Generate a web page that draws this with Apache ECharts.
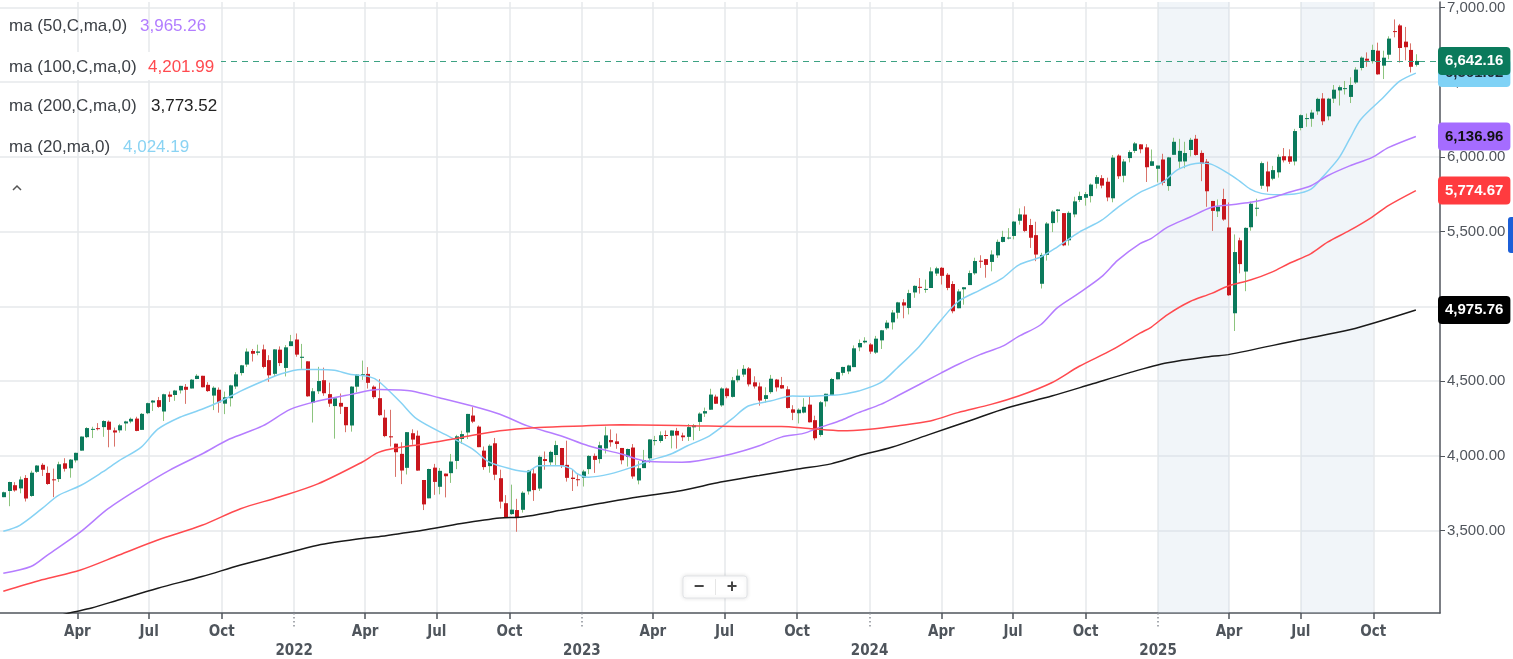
<!DOCTYPE html>
<html lang="en">
<head>
<meta charset="UTF-8"/>
<title>weekly index</title>
<script src="https://cdn.jsdelivr.net/npm/echarts@6/dist/echarts.min.js"></script>
<style>
    html, body { margin: 0; padding: 0; background: #fff; }
    #main { width: 1513px; height: 659px; }
</style>
</head>
<body>
<div id="main"></div>

<script type="text/javascript">
    // monday of the first weekly bar
    var firstWeek = '2020-12-28';

    // weekly bars: [open, high, low, close]
    var candles = [
        [3723.0, 3760.2, 3723.0, 3756.1],
        // 2021
        [3764.6, 3826.7, 3662.7, 3824.7], [3803.1, 3823.6, 3759.6, 3768.3], [3781.9, 3861.5, 3749.1, 3841.5], [3851.7, 3870.9, 3694.1, 3714.2],
        [3731.2, 3900.4, 3725.6, 3886.8], [3892.6, 3937.3, 3884.9, 3934.8], [3939.6, 3950.4, 3865.0, 3906.7], [3885.5, 3928.6, 3805.6, 3811.2],
        [3842.5, 3914.5, 3723.3, 3841.9], [3844.4, 3960.3, 3824.6, 3943.3], [3949.6, 3983.9, 3894.6, 3913.1], [3916.5, 3978.2, 3853.5, 3974.5],
        [3969.3, 4020.6, 3955.1, 4019.9], [4034.4, 4129.5, 4034.4, 4128.8], [4124.7, 4191.3, 4118.6, 4185.5], [4179.8, 4194.2, 4118.6, 4180.2],
        [4185.0, 4218.8, 4170.2, 4181.2], [4192.0, 4238.0, 4127.0, 4232.6], [4228.3, 4236.4, 4056.9, 4173.9], [4169.9, 4188.7, 4061.4, 4155.9],
        [4170.2, 4213.4, 4154.5, 4204.1], [4216.5, 4234.1, 4167.6, 4229.9], [4229.3, 4255.8, 4217.7, 4247.4], [4248.9, 4261.1, 4164.4, 4166.5],
        [4173.4, 4286.1, 4173.4, 4280.7], [4284.9, 4355.4, 4278.5, 4352.3], [4356.5, 4372.9, 4300.0, 4369.6], [4372.4, 4393.7, 4321.1, 4327.2],
        [4296.4, 4415.2, 4233.1, 4411.8], [4409.6, 4430.0, 4360.0, 4395.3], [4406.9, 4440.8, 4367.7, 4436.5], [4437.8, 4468.4, 4416.8, 4468.0],
        [4461.7, 4480.3, 4347.5, 4441.7], [4450.3, 4513.3, 4450.3, 4509.4], [4513.8, 4545.9, 4513.0, 4535.4], [4535.4, 4535.4, 4457.7, 4458.6],
        [4474.8, 4492.8, 4427.8, 4433.0], [4402.9, 4465.4, 4305.9, 4455.5], [4442.1, 4457.3, 4288.5, 4357.0], [4348.8, 4429.8, 4278.9, 4391.3],
        [4385.4, 4475.8, 4329.9, 4471.4], [4463.7, 4559.7, 4447.5, 4544.9], [4553.7, 4608.1, 4537.4, 4605.4], [4610.6, 4718.5, 4595.1, 4697.5],
        [4701.5, 4714.9, 4630.9, 4682.9], [4689.3, 4743.8, 4672.9, 4698.0], [4712.0, 4743.8, 4585.4, 4594.6], [4640.2, 4673.0, 4495.1, 4538.4],
        [4548.4, 4713.6, 4531.1, 4712.0], [4710.3, 4732.0, 4600.2, 4620.6], [4587.9, 4740.7, 4531.1, 4725.8], [4734.0, 4808.9, 4734.0, 4766.2],
        // 2022
        [4778.1, 4818.6, 4662.7, 4677.0], [4655.3, 4748.8, 4582.2, 4662.9], [4632.2, 4632.2, 4395.3, 4397.9], [4356.3, 4453.2, 4222.6, 4431.9],
        [4431.8, 4595.3, 4414.0, 4500.5], [4505.8, 4590.0, 4401.4, 4418.6], [4412.6, 4489.6, 4327.2, 4348.9], [4332.7, 4385.3, 4114.7, 4384.7],
        [4354.2, 4416.8, 4279.5, 4328.9], [4327.0, 4327.0, 4157.9, 4204.3], [4202.8, 4465.4, 4161.7, 4463.1], [4462.4, 4546.0, 4424.3, 4543.1],
        [4541.1, 4637.3, 4507.6, 4545.9], [4548.0, 4593.5, 4450.0, 4488.3], [4462.6, 4471.0, 4381.3, 4392.6], [4385.6, 4512.9, 4267.6, 4271.8],
        [4255.3, 4308.5, 4124.3, 4131.9], [4130.6, 4307.7, 4062.5, 4123.3], [4081.3, 4081.3, 3858.9, 4023.9], [4013.0, 4090.7, 3810.3, 3901.4],
        [3919.4, 4158.5, 3875.1, 4158.2], [4151.1, 4177.5, 4073.9, 4108.5], [4134.7, 4168.8, 3900.2, 3900.9], [3838.2, 3838.2, 3636.9, 3674.8],
        [3715.3, 3913.7, 3715.3, 3911.7], [3920.8, 3945.9, 3738.7, 3825.3], [3792.6, 3918.5, 3742.1, 3899.4], [3880.9, 3880.9, 3721.6, 3863.2],
        [3883.8, 4012.4, 3818.6, 3961.6], [3965.7, 4140.2, 3910.7, 4130.3], [4112.4, 4167.7, 4079.8, 4145.2], [4155.9, 4280.5, 4112.1, 4280.2],
        [4269.4, 4325.3, 4218.7, 4228.5], [4195.1, 4203.0, 4057.7, 4057.7], [4034.6, 4062.0, 3906.2, 3924.3], [3930.9, 4076.8, 3886.8, 4067.4],
        [4083.7, 4119.3, 3837.1, 3873.3], [3849.9, 3907.1, 3647.5, 3693.2], [3682.7, 3736.7, 3584.1, 3585.6], [3609.8, 3806.9, 3604.9, 3639.7],
        [3636.9, 3712.0, 3491.6, 3583.1], [3638.7, 3762.8, 3620.0, 3752.8], [3762.0, 3905.4, 3740.4, 3901.1], [3881.9, 3911.8, 3698.2, 3770.6],
        [3780.7, 4001.5, 3764.7, 3992.9], [3978.0, 4028.8, 3906.5, 3965.3], [3956.2, 4034.0, 3933.0, 4026.1], [4005.4, 4100.5, 3937.8, 4071.7],
        [4052.0, 4052.5, 3918.4, 3934.4], [3939.3, 4101.0, 3827.3, 3852.4], [3853.8, 3905.0, 3764.5, 3844.8], [3843.3, 3878.5, 3796.0, 3839.5],
        // 2023
        [3853.3, 3906.2, 3794.3, 3895.1], [3910.8, 4004.0, 3877.3, 3999.1], [3999.3, 4015.4, 3885.5, 3972.6], [3978.1, 4094.2, 3949.1, 4070.6],
        [4049.3, 4195.4, 4015.6, 4136.5], [4105.3, 4176.5, 4060.8, 4090.5], [4096.6, 4149.0, 4047.0, 4079.1], [4052.4, 4052.4, 3943.1, 3970.0],
        [3992.4, 4048.3, 3928.2, 4045.6], [4055.2, 4078.5, 3846.3, 3861.6], [3835.1, 3964.5, 3808.9, 3916.6], [3917.5, 4039.5, 3917.5, 3971.0],
        [3982.9, 4110.8, 3951.5, 4109.3], [4102.2, 4133.1, 4069.8, 4105.0], [4098.8, 4163.2, 4086.9, 4137.6], [4139.0, 4169.5, 4113.2, 4133.5],
        [4134.0, 4170.1, 4049.4, 4169.5], [4166.8, 4186.9, 4048.3, 4136.3], [4136.0, 4154.3, 4098.9, 4124.1], [4126.7, 4212.9, 4099.1, 4192.0],
        [4190.8, 4212.9, 4104.0, 4205.5], [4226.7, 4290.7, 4166.2, 4282.4], [4283.0, 4322.6, 4260.2, 4298.9], [4308.3, 4448.5, 4307.2, 4409.6],
        [4396.1, 4409.2, 4347.0, 4348.3], [4337.4, 4458.5, 4328.1, 4450.4], [4450.5, 4456.5, 4385.1, 4399.0], [4394.2, 4527.6, 4389.9, 4505.4],
        [4505.3, 4578.4, 4491.2, 4536.3], [4543.4, 4607.1, 4528.6, 4582.2], [4584.8, 4594.2, 4463.9, 4478.0], [4491.6, 4531.9, 4449.9, 4464.1],
        [4464.1, 4490.3, 4335.3, 4369.7], [4380.3, 4458.3, 4356.3, 4405.7], [4426.0, 4541.2, 4415.0, 4515.8], [4510.1, 4514.3, 4430.3, 4457.5],
        [4473.0, 4527.7, 4448.4, 4450.3], [4445.1, 4465.4, 4316.5, 4320.1], [4310.6, 4338.5, 4238.6, 4288.1], [4284.5, 4317.3, 4216.5, 4308.5],
        [4289.0, 4385.5, 4283.8, 4327.8], [4342.4, 4393.6, 4223.0, 4224.2], [4238.4, 4268.3, 4103.8, 4117.4], [4139.4, 4366.0, 4128.0, 4358.3],
        [4364.3, 4415.6, 4329.3, 4415.2], [4406.7, 4521.2, 4406.7, 4514.0], [4511.7, 4560.3, 4511.7, 4559.3], [4554.9, 4595.4, 4537.2, 4594.6],
        [4564.4, 4609.2, 4546.5, 4604.4], [4593.4, 4738.6, 4593.4, 4719.2], [4725.6, 4778.0, 4699.7, 4754.6], [4758.9, 4793.3, 4752.0, 4769.8],
        // 2024
        [4745.2, 4754.3, 4682.1, 4697.2], [4690.6, 4802.4, 4681.5, 4783.8], [4772.4, 4842.1, 4714.8, 4839.8], [4853.4, 4907.0, 4844.0, 4891.0],
        [4892.9, 4975.3, 4845.2, 4958.6], [4957.2, 5030.1, 4918.1, 5026.6], [5026.8, 5048.4, 4920.3, 5005.6], [4989.3, 5111.1, 4946.0, 5088.8],
        [5093.0, 5140.3, 5057.3, 5137.1], [5130.9, 5189.3, 5085.4, 5123.7], [5112.0, 5179.1, 5091.1, 5117.1], [5123.0, 5261.1, 5123.0, 5234.2],
        [5219.5, 5264.9, 5203.4, 5254.4], [5258.0, 5263.0, 5146.1, 5204.3], [5211.4, 5222.2, 5107.9, 5123.4], [5149.7, 5168.4, 4953.6, 4967.2],
        [4987.3, 5114.6, 4987.3, 5100.0], [5114.1, 5128.0, 5011.1, 5127.8], [5142.4, 5239.7, 5142.4, 5222.7], [5221.1, 5325.5, 5211.2, 5303.3],
        [5305.4, 5341.9, 5257.0, 5304.7], [5315.9, 5315.9, 5191.7, 5277.5], [5297.2, 5375.1, 5234.3, 5347.0], [5341.2, 5447.3, 5324.3, 5431.6],
        [5431.1, 5505.5, 5428.1, 5464.6], [5459.6, 5523.6, 5448.0, 5460.5], [5471.1, 5570.3, 5448.4, 5567.2], [5572.9, 5655.6, 5546.7, 5615.4],
        [5614.1, 5669.7, 5497.0, 5505.0], [5544.3, 5585.3, 5391.0, 5459.1], [5476.6, 5566.2, 5302.4, 5346.6], [5151.1, 5358.2, 5119.3, 5344.2],
        [5344.4, 5563.9, 5306.3, 5554.3], [5557.2, 5643.2, 5497.0, 5634.6], [5637.8, 5651.4, 5561.0, 5648.4], [5623.9, 5623.9, 5402.6, 5408.4],
        [5442.1, 5636.3, 5407.0, 5626.0], [5615.2, 5733.6, 5596.0, 5702.6], [5711.9, 5767.4, 5698.3, 5738.2], [5726.5, 5765.1, 5674.0, 5751.1],
        [5737.8, 5822.1, 5695.5, 5815.0], [5820.1, 5878.5, 5788.4, 5864.7], [5857.8, 5878.2, 5790.0, 5808.1], [5833.9, 5861.0, 5703.2, 5728.8],
        [5723.2, 6012.5, 5696.5, 5995.5], [6008.9, 6017.3, 5853.0, 5870.6], [5874.2, 5985.4, 5830.3, 5969.3], [5992.3, 6044.2, 5963.9, 6032.4],
        [6040.1, 6100.0, 6026.3, 6090.3], [6084.0, 6085.2, 6024.3, 6051.1], [6063.8, 6085.2, 5832.3, 5930.9], [5940.3, 6049.8, 5940.3, 5970.8],
        [5920.7, 5940.8, 5829.5, 5942.5],
        // 2025
        [5982.8, 6021.0, 5809.7, 5827.0], [5804.9, 6000.0, 5773.3, 5996.7], [6014.1, 6128.2, 6014.1, 6101.2], [5969.0, 6120.9, 5923.9, 6040.5],
        [5969.7, 6101.3, 5923.9, 6026.0], [6046.4, 6127.5, 6003.0, 6114.6], [6121.6, 6147.4, 6008.6, 6013.1], [6026.7, 6043.7, 5837.7, 5954.5],
        [5968.3, 5986.1, 5666.3, 5770.2], [5705.4, 5705.4, 5504.7, 5638.9], [5635.6, 5715.3, 5597.8, 5667.6], [5718.1, 5787.0, 5572.4, 5580.9],
        [5527.9, 5695.3, 5069.9, 5074.1], [4953.8, 5481.3, 4835.0, 5363.4], [5442.0, 5459.5, 5220.8, 5282.7], [5232.9, 5528.1, 5101.6, 5525.2],
        [5529.2, 5700.7, 5506.1, 5686.7], [5655.3, 5720.1, 5603.0, 5659.9], [5807.1, 5969.3, 5786.1, 5958.4], [5902.9, 5968.6, 5767.4, 5802.8],
        [5854.1, 5939.9, 5843.7, 5911.7], [5896.7, 6016.9, 5861.4, 6000.4], [6004.6, 6059.4, 5963.2, 5977.0], [6004.0, 6050.8, 5952.6, 5967.8],
        [5969.7, 6187.7, 5943.2, 6173.1], [6193.4, 6284.7, 6178.0, 6279.4], [6259.8, 6290.2, 6201.6, 6259.8], [6255.2, 6315.6, 6201.6, 6296.8],
        [6304.7, 6395.8, 6281.7, 6388.6], [6390.9, 6427.0, 6212.7, 6238.0], [6271.7, 6395.2, 6245.0, 6389.5], [6389.7, 6481.3, 6360.8, 6449.8],
        [6445.0, 6478.3, 6343.9, 6466.9], [6457.7, 6508.2, 6417.4, 6460.3], [6401.5, 6532.7, 6360.6, 6481.5], [6498.1, 6600.2, 6488.6, 6584.3],
        [6594.9, 6672.7, 6578.9, 6664.4], [6657.2, 6699.5, 6603.0, 6643.7], [6640.4, 6750.9, 6624.6, 6715.8], [6711.2, 6764.6, 6550.2, 6552.5],
        [6610.8, 6710.9, 6520.9, 6664.0], [6684.0, 6807.1, 6653.7, 6791.7], [6842.0, 6920.3, 6800.0, 6840.2], [6880.0, 6890.0, 6631.4, 6728.8],
        [6771.5, 6869.9, 6646.0, 6734.1], [6716.0, 6760.0, 6565.0, 6603.0], [6616.0, 6687.0, 6605.0, 6642.16]
    ];

    // moving averages as [week index, value]
    var ma20 = [[0, 3495], [3, 3535], [7, 3646], [10, 3735], [14, 3801], [18, 3892], [21, 3967], [25, 4058], [28, 4178],
        [32, 4258], [36, 4311], [39, 4358], [43, 4433], [47, 4499], [50, 4544], [54, 4577], [57, 4577], [60, 4572],
        [63, 4544], [66, 4533], [68, 4499], [72, 4358], [75, 4245], [81, 4125], [85, 4046], [88, 3959], [92, 3912],
        [95, 3894], [97, 3934], [101, 3934], [103, 3912], [104, 3880], [106, 3857], [110, 3879], [114, 3924], [117, 3967],
        [121, 4012], [124, 4067], [128, 4134], [132, 4245], [135, 4333], [139, 4366], [143, 4400], [146, 4398], [150, 4405],
        [152, 4411], [155, 4433], [159, 4489], [162, 4588], [166, 4732], [170, 4910], [173, 5031], [177, 5109], [181, 5187],
        [184, 5276], [188, 5330], [191, 5397], [195, 5497], [199, 5575], [202, 5663], [206, 5763], [210, 5829], [213, 5918],
        [217, 5960], [219, 5950], [222, 5890], [224, 5840], [226, 5785], [228, 5756], [231, 5747], [234, 5752], [237, 5785],
        [239, 5862], [242, 5990], [244, 6120], [246, 6250], [250, 6394], [253, 6505], [256, 6561]];
    var ma50 = [[0, 3214], [5, 3259], [8, 3336], [14, 3491], [19, 3646], [25, 3791], [30, 3901], [36, 4012], [41, 4112],
        [47, 4200], [52, 4311], [57, 4366], [63, 4411], [68, 4444], [72, 4440], [74, 4433], [79, 4389], [85, 4333],
        [90, 4278], [95, 4200], [101, 4134], [106, 4067], [112, 4012], [117, 3961], [123, 3957], [126, 3967], [132, 4012],
        [137, 4067], [141, 4125], [145, 4150], [148, 4190], [152, 4240], [155, 4289], [159, 4344], [162, 4400], [166, 4477],
        [170, 4555], [173, 4611], [177, 4677], [181, 4732], [184, 4799], [188, 4877], [191, 4990], [195, 5090], [199, 5197],
        [202, 5309], [206, 5420], [208, 5453], [211, 5530], [215, 5596], [219, 5663], [222, 5678], [226, 5696], [230, 5729],
        [233, 5763], [237, 5807], [240, 5874], [244, 5940], [248, 5995], [251, 6062], [256, 6136.96]];
    var ma100 = [[0, 3093], [7, 3170], [14, 3236], [21, 3336], [28, 3436], [36, 3535], [43, 3646], [50, 3724], [57, 3812],
        [65, 3957], [68, 4023], [72, 4057], [76, 4078], [83, 4123], [90, 4167], [97, 4189], [105, 4200], [112, 4207],
        [119, 4205], [126, 4200], [134, 4196], [141, 4196], [146, 4183], [152, 4167], [157, 4178], [162, 4200], [168, 4233],
        [173, 4289], [179, 4344], [184, 4400], [190, 4489], [195, 4599], [201, 4710], [206, 4821], [208, 4860], [211, 4945],
        [215, 5031], [219, 5087], [222, 5136], [226, 5176], [230, 5231], [233, 5287], [237, 5353], [240, 5430], [244, 5508],
        [248, 5596], [251, 5674], [256, 5774.67]];
    var ma200 = [[0, 2830], [12, 2948], [16, 2981], [21, 3037], [28, 3114], [36, 3192], [43, 3269], [50, 3336], [57, 3402],
        [65, 3447], [68, 3458], [72, 3480], [76, 3502], [83, 3547], [90, 3584], [94, 3591], [101, 3635], [108, 3680],
        [115, 3724], [123, 3768], [130, 3824], [137, 3868], [144, 3912], [150, 3946], [155, 4000], [161, 4057], [168, 4145],
        [175, 4233], [182, 4322], [190, 4400], [197, 4477], [204, 4555], [211, 4622], [219, 4666], [222, 4677], [235, 4777],
        [244, 4843], [256, 4975.76]];

    // right-axis tags: [value, background, text colour]
    var lastPrice = 6642.16;
    var maTags = [[4975.76, '#000000', '#ffffff'], [5774.67, '#ff3b3f', '#ffffff'], [6136.96, '#a56cff', '#111111'], [6561.02, '#7fd2f6', '#1d2b36']];

    // legend rows: label, value, value colour
    var legendRows = [
        ['ma (50,C,ma,0)', '3,965.26', '#b27dff'],
        ['ma (100,C,ma,0)', '4,201.99', '#ff4a4f'],
        ['ma (200,C,ma,0)', '3,773.52', '#222222'],
        ['ma (20,ma,0)', '4,024.19', '#8ad3f3']
    ];

    var priceTicks = [3500, 4000, 4500, 5000, 5500, 6000, 6500, 7000];
    var monthTicks = ['2021-04-01', '2021-07-01', '2021-10-01', '2022-04-01', '2022-07-01', '2022-10-01',
        '2023-04-01', '2023-07-01', '2023-10-01', '2024-04-01', '2024-07-01', '2024-10-01',
        '2025-04-01', '2025-07-01', '2025-10-01'];
    var yearTicks = ['2022-01-01', '2023-01-01', '2024-01-01', '2025-01-01'];
    var shadeRanges = [['2025-01-01', '2025-04-01'], ['2025-07-01', '2025-10-01']];

    var DAY = 864e5;
    var MONTHS = ['Jan', 'Feb', 'Mar', 'Apr', 'May', 'Jun', 'Jul', 'Aug', 'Sep', 'Oct', 'Nov', 'Dec'];
    function utc(s) {
        var p = s.split('-');
        return Date.UTC(+p[0], +p[1] - 1, +p[2]);
    }
    var t0 = utc(firstWeek);
    function weekTime(i) { return t0 + i * 7 * DAY; }
    function fmt(v) {
        return v.toLocaleString('en-US', {minimumFractionDigits: 2, maximumFractionDigits: 2});
    }
    function maSeries(points) {
        return points.map(function (p) { return [weekTime(p[0]), p[1]]; });
    }

    var candleData = candles.map(function (c, i) {
        return [weekTime(i), c[0], c[1], c[2], c[3]];
    });

    var UP = '#0b7a5c', DOWN = '#c8161d', UP_WICK = '#8cc47e', DOWN_WICK = '#d9736a';
    var PRICE_LINE = '#3da283';
    function renderCandle(params, api) {
        var t = api.value(0);
        var o = api.value(1), h = api.value(2), l = api.value(3), c = api.value(4);
        var pO = api.coord([t, o]), pC = api.coord([t, c]);
        var pH = api.coord([t, h]), pL = api.coord([t, l]);
        var up = c >= o;
        var x = Math.round(pO[0]);
        var top = Math.min(pO[1], pC[1]);
        var bh = Math.max(Math.abs(pO[1] - pC[1]), 1);
        return {
            type: 'group',
            children: [
                {type: 'line', shape: {x1: x + 0.5, y1: pH[1], x2: x + 0.5, y2: pL[1]},
                    style: {stroke: up ? UP_WICK : DOWN_WICK, lineWidth: 1}},
                {type: 'rect', shape: {x: x - 1, y: top, width: 4, height: bh},
                    style: {fill: up ? UP : DOWN}}
            ]
        };
    }

    var tagLabel = function (bg, fg) {
        return {
            show: true, position: 'end', distance: 0, offset: [-2, 0],
            formatter: function (p) { return fmt(p.value); },
            backgroundColor: bg, color: fg, borderRadius: 4,
            padding: [7, 7, 6, 7], fontSize: 15, fontWeight: 'bold',
            fontFamily: 'Liberation Sans, Arial, sans-serif'
        };
    };
    var markData = maTags.map(function (m) {
        return {yAxis: m[0], lineStyle: {color: 'rgba(0,0,0,0)', width: 0}, label: tagLabel(m[1], m[2])};
    });
    markData.push({
        yAxis: lastPrice,
        itemStyle: {color: PRICE_LINE},
        lineStyle: {color: PRICE_LINE, width: 1.2, type: [6, 5], opacity: 1},
        label: tagLabel('#0b7a5c', '#ffffff')
    });

    var gridColor = '#e6e8eb';
    var axisColor = '#50555c';
    var xLabelFont = "'Liberation Sans Narrow', 'DejaVu Sans Condensed', 'Roboto Condensed', 'Liberation Sans', sans-serif";
    var xMin = t0 - 4.19 * DAY, xMax = t0 + 1822.6 * DAY;

    var myChart = echarts.init(document.getElementById('main'));
    var option = {
        animation: false,
        backgroundColor: '#ffffff',
        grid: {left: 0, right: 73, top: 0, bottom: 44, containLabel: false},
        xAxis: [
            {
                type: 'value', min: xMin, max: xMax, position: 'bottom',
                axisLine: {show: true, onZero: false, lineStyle: {color: axisColor, width: 1.5}},
                axisTick: {show: true, length: 6, customValues: monthTicks.map(utc), lineStyle: {color: axisColor, width: 1.5}},
                axisLabel: {
                    show: true, customValues: monthTicks.map(utc), margin: 12,
                    formatter: function (v) { return MONTHS[new Date(v).getUTCMonth()]; },
                    color: '#4f555c', fontSize: 15, fontWeight: 'bold', fontFamily: xLabelFont
                },
                splitLine: {show: true, lineStyle: {color: gridColor, width: 1.5}}
            },
            {
                type: 'value', min: xMin, max: xMax, position: 'bottom', gridIndex: 0,
                axisLine: {show: false, onZero: false},
                axisTick: {show: true, length: 14, customValues: yearTicks.map(utc), lineStyle: {color: '#8a8f96', width: 1.5, type: [1.5, 2.5]}},
                axisLabel: {
                    show: true, customValues: yearTicks.map(utc), margin: 31,
                    formatter: function (v) { return String(new Date(v).getUTCFullYear()); },
                    color: '#4f555c', fontSize: 15, fontWeight: 'bold', fontFamily: xLabelFont
                },
                splitLine: {show: true, lineStyle: {color: gridColor, width: 1.5}}
            }
        ],
        yAxis: {
            type: 'value', position: 'right', min: 2948, max: 7037,
            axisLine: {show: true, lineStyle: {color: axisColor, width: 1.5}},
            axisTick: {show: true, length: 5, customValues: priceTicks, lineStyle: {color: axisColor}},
            axisLabel: {
                show: true, customValues: priceTicks, margin: 7,
                formatter: function (v) { return fmt(v); },
                color: '#50555c', fontSize: 15, fontFamily: 'Liberation Sans, Arial, sans-serif'
            },
            splitLine: {show: true, lineStyle: {color: gridColor, width: 1.5}}
        },
        series: [
            {
                name: 'weekly', type: 'custom', renderItem: renderCandle,
                data: candleData, encode: {x: 0, y: [1, 2, 3, 4]}, z: 3,
                itemStyle: {color: PRICE_LINE},
                markArea: {
                    silent: true,
                    itemStyle: {color: 'rgba(205,218,232,0.28)'},
                    data: shadeRanges.map(function (r) { return [{xAxis: utc(r[0])}, {xAxis: utc(r[1])}]; })
                },
                markLine: {
                    silent: true, symbol: ['none', 'none'], animation: false,
                    itemStyle: {color: PRICE_LINE},
                    lineStyle: {color: PRICE_LINE, width: 1.2, type: [6, 5]},
                    data: markData
                }
            },
            {name: 'ma20', type: 'line', data: maSeries(ma20), showSymbol: false, smooth: 0.3, z: 4,
                lineStyle: {color: '#86d2f4', width: 1.5}},
            {name: 'ma50', type: 'line', data: maSeries(ma50), showSymbol: false, smooth: 0.3, z: 4,
                lineStyle: {color: '#b57dff', width: 1.5}},
            {name: 'ma100', type: 'line', data: maSeries(ma100), showSymbol: false, smooth: 0.3, z: 4,
                lineStyle: {color: '#ff4a4f', width: 1.5}},
            {name: 'ma200', type: 'line', data: maSeries(ma200), showSymbol: false, smooth: 0.3, z: 4,
                lineStyle: {color: '#1a1a1a', width: 1.5}}
        ],
        graphic: []
    };

    // legend block, top-left
    var legendX = [140, 148, 151, 123];
    var legendY = [26, 67, 106, 147];
    option.graphic.push({type: 'rect', shape: {x: 0, y: 52, width: 221, height: 28}, style: {fill: '#ffffff'}, z: 20});
    legendRows.forEach(function (r, i) {
        option.graphic.push({type: 'text', x: 9, y: legendY[i], z: 21,
            style: {text: r[0], fill: '#3c4046', font: '17px "Liberation Sans", Arial, sans-serif', verticalAlign: 'middle'}});
        option.graphic.push({type: 'text', x: legendX[i], y: legendY[i], z: 21,
            style: {text: r[1], fill: r[2], font: '17px "Liberation Sans", Arial, sans-serif', verticalAlign: 'middle'}});
    });
    // collapse chevron
    option.graphic.push({type: 'polyline', shape: {points: [[13, 190], [17, 186], [21, 190]]},
        style: {stroke: '#555', lineWidth: 1.5, fill: null}, z: 21});
    // zoom buttons
    option.graphic.push({type: 'rect', shape: {x: 683, y: 576, width: 64, height: 22, r: 3},
        style: {fill: '#ffffff', stroke: '#e2e4e7', lineWidth: 1, shadowBlur: 4, shadowColor: 'rgba(0,0,0,0.12)'}, z: 21});
    option.graphic.push({type: 'line', shape: {x1: 715.5, y1: 579, x2: 715.5, y2: 595}, style: {stroke: '#e6e6e6', lineWidth: 1}, z: 22});
    option.graphic.push({type: 'text', x: 699, y: 587, z: 22,
        style: {text: '\u2212', fill: '#444', font: 'bold 18px "Liberation Sans", Arial', align: 'center', verticalAlign: 'middle'}});
    option.graphic.push({type: 'text', x: 732, y: 587, z: 22,
        style: {text: '+', fill: '#444', font: 'bold 18px "Liberation Sans", Arial', align: 'center', verticalAlign: 'middle'}});
    // blue handle at the right edge
    option.graphic.push({type: 'rect', shape: {x: 1508, y: 217, width: 10, height: 36, r: 3}, style: {fill: '#1c5fd8'}, z: 21});

    myChart.setOption(option);
</script>
</body>
</html>
